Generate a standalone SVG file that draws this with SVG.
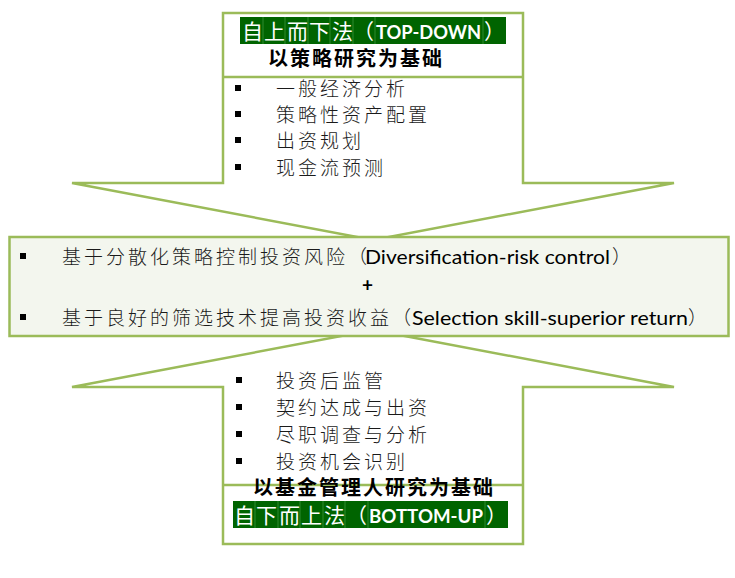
<svg xmlns="http://www.w3.org/2000/svg" width="735" height="578" viewBox="0 0 735 578">
<style>
.shape{fill:#ffffff;stroke:#9bbb59;stroke-width:2.5;stroke-linejoin:miter}
.sep{stroke:#9bbb59;stroke-width:2.5}
.mid{fill:#f3f6ee;stroke:#9bbb59;stroke-width:2.5}
.hdr{fill:#006400}
.cell{stroke:#2f8a2f;stroke-width:1}
.item{font-family:"Noto Sans CJK SC",sans-serif;font-size:19px;font-weight:300;fill:#1a1a1a;letter-spacing:3px}
.bold{font-family:"Noto Sans CJK SC",sans-serif;font-size:20px;font-weight:700;fill:#000;letter-spacing:2px}
.htxt{font-family:"Noto Sans CJK SC",sans-serif;font-size:21px;fill:#ffffff}
.hlat{font-family:"Lato","Liberation Sans",sans-serif;font-weight:700;font-size:19px;fill:#ffffff}
.lat{font-family:"Lato","Liberation Sans",sans-serif;font-size:19px;fill:#000}
.bul{fill:#000}
</style>
<g id="connectors">
  <path id="top-arrow" class="shape" d="M223,13 H523 V183 H674 L373,240 L72,183 H223 Z"/>
  <line class="sep" x1="223" y1="77" x2="523" y2="77"/>
  <path id="bottom-arrow" class="shape" d="M373,330 L674,387 H523 V544 H223 V387 H72 Z"/>
  <line class="sep" x1="223" y1="485" x2="523" y2="485"/>
</g>
<g id="top-down">
  <rect class="hdr" x="240" y="17" width="266" height="27"/>
  <g class="cell">
    <line x1="263" y1="17" x2="263" y2="44"/><line x1="285" y1="17" x2="285" y2="44"/>
    <line x1="308" y1="17" x2="308" y2="44"/><line x1="330" y1="17" x2="330" y2="44"/>
    <line x1="353" y1="17" x2="353" y2="44"/><line x1="375" y1="17" x2="375" y2="44"/>
    <line x1="483" y1="17" x2="483" y2="44"/>
  </g>
  <text class="htxt" y="39"><tspan x="242">自</tspan><tspan x="264">上</tspan><tspan x="287">而</tspan><tspan x="309">下</tspan><tspan x="332">法</tspan><tspan x="353">（</tspan></text>
  <text class="hlat" x="376" y="39" textLength="105" lengthAdjust="spacingAndGlyphs">TOP-DOWN</text>
  <text class="htxt" x="484" y="39">）</text>
  <text class="bold" x="268" y="66">以策略研究为基础</text>
  <rect class="bul" x="235" y="85" width="6" height="6"/>
  <rect class="bul" x="235" y="111" width="6" height="6"/>
  <rect class="bul" x="235" y="137" width="6" height="6"/>
  <rect class="bul" x="235" y="164" width="6" height="6"/>
  <text class="item" x="276" y="96">一般经济分析</text>
  <text class="item" x="276" y="122">策略性资产配置</text>
  <text class="item" x="276" y="148">出资规划</text>
  <text class="item" x="276" y="175">现金流预测</text>
</g>
<g id="bottom-up">
  <rect class="hdr" x="233" y="501" width="275" height="27"/>
  <g class="cell">
    <line x1="255" y1="501" x2="255" y2="528"/><line x1="278" y1="501" x2="278" y2="528"/>
    <line x1="300" y1="501" x2="300" y2="528"/><line x1="323" y1="501" x2="323" y2="528"/>
    <line x1="345" y1="501" x2="345" y2="528"/><line x1="368" y1="501" x2="368" y2="528"/>
    <line x1="485" y1="501" x2="485" y2="528"/>
  </g>
  <text class="htxt" y="523"><tspan x="234">自</tspan><tspan x="256">下</tspan><tspan x="279">而</tspan><tspan x="301">上</tspan><tspan x="324">法</tspan><tspan x="346">（</tspan></text>
  <text class="hlat" x="369" y="523" textLength="114" lengthAdjust="spacingAndGlyphs">BOTTOM-UP</text>
  <text class="htxt" x="486" y="523">）</text>
  <text class="bold" x="253" y="495">以基金管理人研究为基础</text>
  <rect class="bul" x="236" y="377" width="6" height="6"/>
  <rect class="bul" x="236" y="404" width="6" height="6"/>
  <rect class="bul" x="236" y="431" width="6" height="6"/>
  <rect class="bul" x="236" y="458" width="6" height="6"/>
  <text class="item" x="276" y="388">投资后监管</text>
  <text class="item" x="276" y="415">契约达成与出资</text>
  <text class="item" x="276" y="442">尽职调查与分析</text>
  <text class="item" x="276" y="469">投资机会识别</text>
</g>
<g id="middle">
  <rect class="mid" x="9.5" y="237" width="719" height="99"/>
  <rect class="bul" x="20" y="253" width="6" height="6"/>
  <rect class="bul" x="20" y="314" width="6" height="6"/>
  <text class="item" x="62" y="264">基于分散化策略控制投资风险（</text>
  <text class="lat" x="365" y="264" textLength="245" lengthAdjust="spacingAndGlyphs">Diversification-risk control</text>
  <text class="item" x="612" y="264">）</text>
  <text class="lat" x="362" y="292" font-weight="700">+</text>
  <text class="item" x="62" y="325">基于良好的筛选技术提高投资收益（</text>
  <text class="lat" x="412" y="325" textLength="276" lengthAdjust="spacingAndGlyphs">Selection skill-superior return</text>
  <text class="item" x="688" y="325">）</text>
</g>
</svg>
